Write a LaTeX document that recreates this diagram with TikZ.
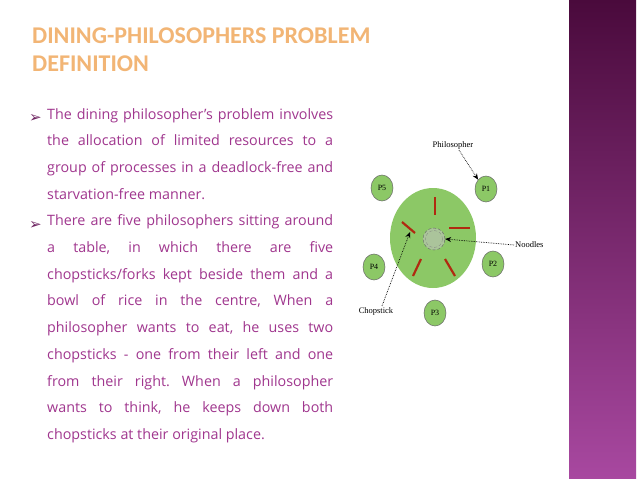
\documentclass[tikz,border=0pt]{standalone}
\usepackage{fontspec}
\setmainfont{Open Sans}
\newfontfamily\symf{DejaVu Sans}
\newfontfamily\labf{Liberation Serif}
\newfontfamily\titf{Carlito}
\usetikzlibrary{arrows.meta,calc,shapes.geometric}
\definecolor{txt}{HTML}{A0368E}
\definecolor{tbl}{HTML}{8CC866}
\definecolor{stick}{HTML}{B02A10}
\definecolor{barTop}{HTML}{4A0A3C}
\definecolor{barBot}{HTML}{A848A0}
\definecolor{ttl}{HTML}{F2B575}
\tikzset{
  phil/.style={ellipse,draw=black!60,line width=0.5pt,fill=tbl,minimum width=22pt,minimum height=26pt,inner sep=0pt,font=\labf\fontsize{8}{9}\selectfont},
  lab/.style={font=\labf\fontsize{8.5}{10}\selectfont,inner sep=1pt},
  pointer/.style={densely dotted,line width=0.7pt,-{Stealth[length=6pt,width=5pt]}},
  chop/.style={stick,line width=2.2pt},
  body/.style={text=txt,font=\frenchspacing\fontsize{14.3}{26.7}\selectfont,align=justify,text width=286pt,inner sep=0pt,anchor=north west},
  bul/.style={text=txt!70!black,font=\symf\fontsize{15}{16}\selectfont,inner sep=0pt,anchor=west},
  ttlstyle/.style={text=ttl,font=\titf\bfseries\fontsize{24}{29}\selectfont,inner sep=0pt,anchor=north west,align=left},
}
\begin{document}
\begin{tikzpicture}[x=1pt,y=-1pt]
\useasboundingbox (0,0) rectangle (638,479);
\fill[white] (0,0) rectangle (638,479);
\shade[top color=barTop,bottom color=barBot] (569,0) rectangle (636,479);
\node[ttlstyle] (title) at (32,28) {DINING-PHILOSOPHERS PROBLEM\\[-1pt]DEFINITION};
\node[bul] (b1) at (29,118) {➢};
\node[bul] (b2) at (29,225) {➢};
\node[body] (t1) at (47,108) {The dining philosopher's problem involves\linebreak the allocation of limited resources to a\linebreak group of processes in a deadlock-free and\linebreak starvation-free manner.\\
There are five philosophers sitting around\linebreak a table, in which there are five\linebreak chopsticks/forks kept beside them and a\linebreak bowl of rice in the centre, When a\linebreak philosopher wants to eat, he uses two\linebreak chopsticks - one from their left and one\linebreak from their right. When a philosopher\linebreak wants to think, he keeps down both\linebreak chopsticks at their original place.};
\node[ellipse,fill=tbl,minimum width=86pt,minimum height=100pt,inner sep=0pt] (table) at (433,238) {};
\node[circle,fill=tbl!60!gray!70!white,draw=black!60,densely dashed,line width=0.4pt,minimum size=22pt,inner sep=0pt] (bowl) at (434,239) {};
\node[circle,draw=black!50,densely dashed,line width=0.3pt,minimum size=17pt,inner sep=0pt] (bowlin) at (434,239) {};
\draw[chop] (435,197) -- (435,215);
\draw[chop] (449,228) -- (470,228);
\draw[chop] (402,222) -- (415,233);
\draw[chop] (421,259) -- (413,276);
\draw[chop] (445,259) -- (455,276);
\coordinate (stickA) at (410,232);
\node[phil] (P5) at (382,188) {P5};
\node[phil] (P1) at (486,189) {P1};
\node[phil] (P4) at (374,267) {P4};
\node[phil] (P2) at (493,264) {P2};
\node[phil] (P3) at (435,313) {P3};
\node[lab] (lphil) at (453,145) {Philosopher};
\node[lab,anchor=west] (lnood) at (514,245) {Noodles};
\node[lab] (lchop) at (376,311) {Chopstick};
\draw[pointer] (lphil.south) ++(6,0) -- (P1.north west);
\draw[pointer] (lnood.west) -- (bowl.east);
\draw[pointer] (lchop.north) ++(6,0) -- (stickA);
\end{tikzpicture}
\end{document}
